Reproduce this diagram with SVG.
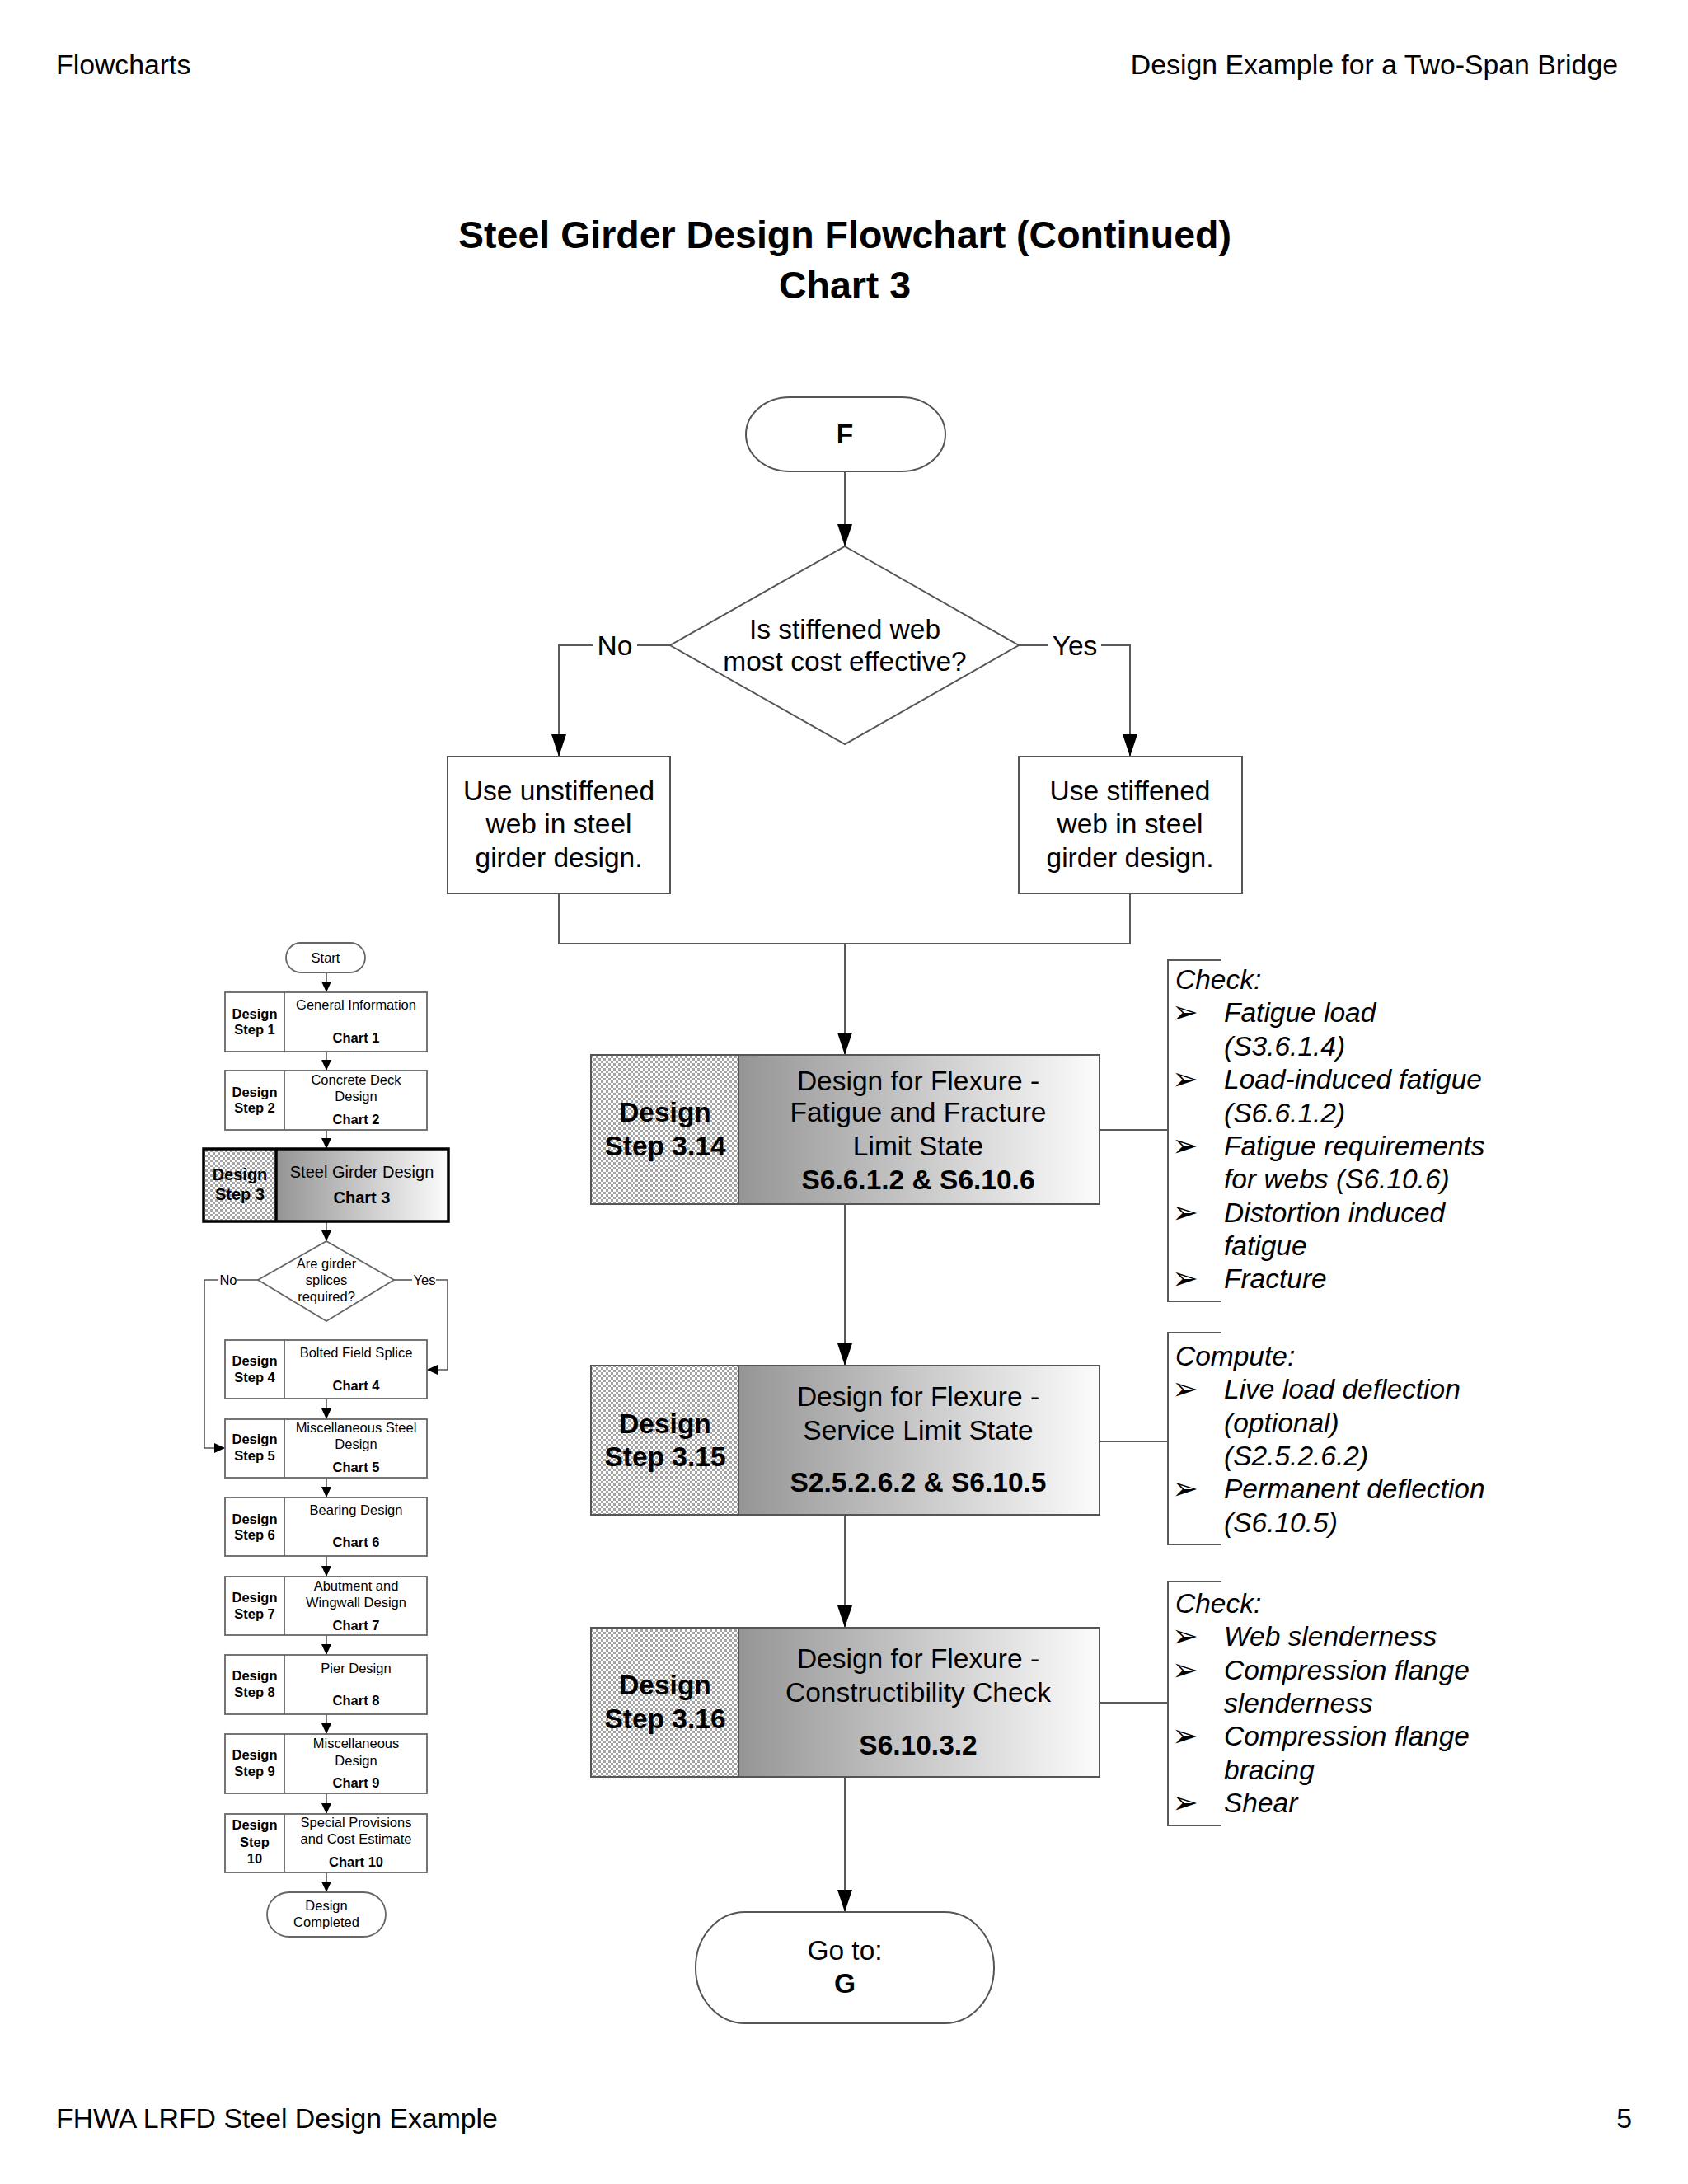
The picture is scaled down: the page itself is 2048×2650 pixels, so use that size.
<svg xmlns="http://www.w3.org/2000/svg" width="2048" height="2650" viewBox="0 0 2048 2650">
<defs>
<style>
text{font-family:"Liberation Sans",Arial,"DejaVu Sans",sans-serif;fill:#000}
.m{font-size:33.5px;text-anchor:middle}
.l{font-size:33.5px}
.s{font-size:16.5px;text-anchor:middle}
.s3{font-size:20px;text-anchor:middle}
.b{font-weight:bold}
.i{font-style:italic}
.h{font-size:33.8px}
.ttl{font-size:46.5px;font-weight:bold;text-anchor:middle}
.bul{font-family:"DejaVu Sans",sans-serif;font-size:38px;font-style:normal}
.ln{stroke:#5a5a5a;stroke-width:2;fill:none}
.lns{stroke:#555;stroke-width:1.6;fill:none}
.box{fill:#fff;stroke:#555;stroke-width:2}
.mbox{fill:#fff;stroke:#666;stroke-width:1.8}
.frame{fill:none;stroke:#555;stroke-width:2}
.a{marker-end:url(#arr)}
.as{marker-end:url(#arrs)}
</style>
<marker id="arr" markerUnits="userSpaceOnUse" markerWidth="27" markerHeight="18" refX="27" refY="9" orient="auto">
<path d="M0,0 L27,9 L0,18 Z" fill="#000"/>
</marker>
<marker id="arrs" markerUnits="userSpaceOnUse" markerWidth="13" markerHeight="12" refX="13" refY="6" orient="auto">
<path d="M0,0 L13,6 L0,12 Z" fill="#000"/>
</marker>
<linearGradient id="grad" x1="0" y1="0" x2="1" y2="0">
<stop offset="0" stop-color="#959595"/>
<stop offset="1" stop-color="#fcfcfc"/>
</linearGradient>
<pattern id="chk" patternUnits="userSpaceOnUse" width="6" height="6">
<rect width="6" height="6" fill="#ffffff"/>
<rect width="3" height="3" fill="#a4a4a4"/>
<rect x="3" y="3" width="3" height="3" fill="#a4a4a4"/>
</pattern>
</defs>
<rect width="2048" height="2650" fill="#fff"/>

<g id="header">
<text class="h" x="68" y="90">Flowcharts</text>
<text class="h" x="1963" y="90" text-anchor="end">Design Example for a Two-Span Bridge</text>
</g>
<g id="title">
<text class="ttl" x="1025" y="301">Steel Girder Design Flowchart (Continued)</text>
<text class="ttl" x="1025" y="362">Chart 3</text>
</g>
<g id="footer">
<text class="h" x="68" y="2582">FHWA LRFD Steel Design Example</text>
<text class="h" x="1980" y="2582" text-anchor="end">5</text>
</g>

<g id="connectors">
<path class="ln a" d="M1025,572 V663"/>
<path class="ln" d="M813,783 H773"/>
<path class="ln a" d="M719,783 H678 V918"/>
<path class="ln" d="M1236,783 H1272"/>
<path class="ln a" d="M1336,783 H1371 V918"/>
<path class="ln" d="M678,1084 V1145 H1371 V1084"/>
<path class="ln a" d="M1025,1145 V1280"/>
<path class="ln a" d="M1025,1461 V1657"/>
<path class="ln a" d="M1025,1838 V1975"/>
<path class="ln a" d="M1025,2156 V2320"/>
<path class="ln" d="M1334,1371 H1417"/>
<path class="ln" d="M1334,1749 H1417"/>
<path class="ln" d="M1334,2066 H1417"/>
<path class="ln" d="M1482,1165 H1417 V1579 H1482"/>
<path class="ln" d="M1482,1617 H1417 V1874 H1482"/>
<path class="ln" d="M1482,1919 H1417 V2215 H1482"/>
<path class="lns as" d="M396,1180 V1204"/>
<path class="lns as" d="M396,1276 V1299"/>
<path class="lns as" d="M396,1371 V1394"/>
<path class="lns as" d="M396,1482 V1506"/>
<path class="lns" d="M313,1553 H288"/>
<path class="lns as" d="M265,1553 H248 V1757 H273"/>
<path class="lns" d="M478,1553 H500"/>
<path class="lns as" d="M529,1553 H543 V1662 H518"/>
<path class="lns as" d="M396,1697 V1722"/>
<path class="lns as" d="M396,1793 V1817"/>
<path class="lns as" d="M396,1888 V1913"/>
<path class="lns as" d="M396,1984 V2008"/>
<path class="lns as" d="M396,2080 V2104"/>
<path class="lns as" d="M396,2176 V2201"/>
<path class="lns as" d="M396,2272 V2296"/>
</g>

<g id="nodeF">
<rect class="box" x="905" y="482" width="242" height="90" rx="53" ry="45"/>
<text class="m b" x="1025" y="538">F</text>
</g>
<g id="decision">
<polygon class="box" points="1025,663 1236,783 1025,903 813,783"/>
<text class="m" x="1025" y="775">Is stiffened web</text>
<text class="m" x="1025" y="814">most cost effective?</text>
</g>
<g id="labelNo"><text class="m" x="746" y="795">No</text></g>
<g id="labelYes"><text class="m" x="1304" y="795">Yes</text></g>
<g id="unstiffened">
<rect class="box" x="543" y="918" width="270" height="166"/>
<text class="m" x="678" y="971">Use unstiffened</text>
<text class="m" x="678" y="1011">web in steel</text>
<text class="m" x="678" y="1052">girder design.</text>
</g>
<g id="stiffened">
<rect class="box" x="1236" y="918" width="271" height="166"/>
<text class="m" x="1371" y="971">Use stiffened</text>
<text class="m" x="1371" y="1011">web in steel</text>
<text class="m" x="1371" y="1052">girder design.</text>
</g>

<g id="step314">
<rect x="717" y="1280" width="179" height="181" fill="url(#chk)"/>
<rect x="896" y="1280" width="438" height="181" fill="url(#grad)"/>
<rect class="frame" x="717" y="1280" width="617" height="181"/>
<line class="frame" x1="896" y1="1280" x2="896" y2="1461"/>
<text class="m b" x="807" y="1361">Design</text>
<text class="m b" x="807" y="1402">Step 3.14</text>
<text class="m" x="1114" y="1323">Design for Flexure -</text>
<text class="m" x="1114" y="1361">Fatigue and Fracture</text>
<text class="m" x="1114" y="1402">Limit State</text>
<text class="m b" x="1114" y="1443">S6.6.1.2 &amp; S6.10.6</text>
</g>
<g id="note314">
<text class="l i" x="1426" y="1200">Check:</text>
<text class="bul" x="1422" y="1241">➢</text>
<text class="l i" x="1485" y="1240">Fatigue load</text>
<text class="l i" x="1485" y="1281">(S3.6.1.4)</text>
<text class="bul" x="1422" y="1322">➢</text>
<text class="l i" x="1485" y="1321">Load-induced fatigue</text>
<text class="l i" x="1485" y="1362">(S6.6.1.2)</text>
<text class="bul" x="1422" y="1403">➢</text>
<text class="l i" x="1485" y="1402">Fatigue requirements</text>
<text class="l i" x="1485" y="1442">for webs (S6.10.6)</text>
<text class="bul" x="1422" y="1484">➢</text>
<text class="l i" x="1485" y="1483">Distortion induced</text>
<text class="l i" x="1485" y="1523">fatigue</text>
<text class="bul" x="1422" y="1564">➢</text>
<text class="l i" x="1485" y="1563">Fracture</text>
</g>

<g id="step315">
<rect x="717" y="1657" width="179" height="181" fill="url(#chk)"/>
<rect x="896" y="1657" width="438" height="181" fill="url(#grad)"/>
<rect class="frame" x="717" y="1657" width="617" height="181"/>
<line class="frame" x1="896" y1="1657" x2="896" y2="1838"/>
<text class="m b" x="807" y="1739">Design</text>
<text class="m b" x="807" y="1779">Step 3.15</text>
<text class="m" x="1114" y="1706">Design for Flexure -</text>
<text class="m" x="1114" y="1747">Service Limit State</text>
<text class="m b" x="1114" y="1810">S2.5.2.6.2 &amp; S6.10.5</text>
</g>
<g id="note315">
<text class="l i" x="1426" y="1657">Compute:</text>
<text class="bul" x="1422" y="1698">➢</text>
<text class="l i" x="1485" y="1697">Live load deflection</text>
<text class="l i" x="1485" y="1738">(optional)</text>
<text class="l i" x="1485" y="1778">(S2.5.2.6.2)</text>
<text class="bul" x="1422" y="1819">➢</text>
<text class="l i" x="1485" y="1818">Permanent deflection</text>
<text class="l i" x="1485" y="1859">(S6.10.5)</text>
</g>

<g id="step316">
<rect x="717" y="1975" width="179" height="181" fill="url(#chk)"/>
<rect x="896" y="1975" width="438" height="181" fill="url(#grad)"/>
<rect class="frame" x="717" y="1975" width="617" height="181"/>
<line class="frame" x1="896" y1="1975" x2="896" y2="2156"/>
<text class="m b" x="807" y="2056">Design</text>
<text class="m b" x="807" y="2097">Step 3.16</text>
<text class="m" x="1114" y="2024">Design for Flexure -</text>
<text class="m" x="1114" y="2065">Constructibility Check</text>
<text class="m b" x="1114" y="2129">S6.10.3.2</text>
</g>
<g id="note316">
<text class="l i" x="1426" y="1957">Check:</text>
<text class="bul" x="1422" y="1998">➢</text>
<text class="l i" x="1485" y="1997">Web slenderness</text>
<text class="bul" x="1422" y="2039">➢</text>
<text class="l i" x="1485" y="2038">Compression flange</text>
<text class="l i" x="1485" y="2078">slenderness</text>
<text class="bul" x="1422" y="2119">➢</text>
<text class="l i" x="1485" y="2118">Compression flange</text>
<text class="l i" x="1485" y="2159">bracing</text>
<text class="bul" x="1422" y="2200">➢</text>
<text class="l i" x="1485" y="2199">Shear</text>
</g>

<g id="gotoG">
<rect class="box" x="844" y="2320" width="362" height="135" rx="60" ry="67"/>
<text class="m" x="1025" y="2378">Go to:</text>
<text class="m b" x="1025" y="2418">G</text>
</g>

<g id="mini-start">
<rect class="mbox" x="347" y="1144" width="96" height="36" rx="18" ry="18"/>
<text class="s" x="395" y="1168">Start</text>
</g>
<g id="mini-step1">
<rect class="mbox" x="273" y="1204" width="245" height="72"/>
<line class="mbox" x1="345" y1="1204" x2="345" y2="1276"/>
<text class="s b" x="309" y="1236">Design</text>
<text class="s b" x="309" y="1255">Step 1</text>
<text class="s" x="432" y="1225">General Information</text>
<text class="s b" x="432" y="1265">Chart 1</text>
</g>
<g id="mini-step2">
<rect class="mbox" x="273" y="1299" width="245" height="72"/>
<line class="mbox" x1="345" y1="1299" x2="345" y2="1371"/>
<text class="s b" x="309" y="1331">Design</text>
<text class="s b" x="309" y="1350">Step 2</text>
<text class="s" x="432" y="1316">Concrete Deck</text>
<text class="s" x="432" y="1336">Design</text>
<text class="s b" x="432" y="1364">Chart 2</text>
</g>
<g id="mini-step3">
<rect x="247" y="1394" width="88" height="88" fill="url(#chk)"/>
<rect x="335" y="1394" width="209" height="88" fill="url(#grad)"/>
<rect x="247" y="1394" width="297" height="88" fill="none" stroke="#000" stroke-width="3.5"/>
<line x1="335" y1="1394" x2="335" y2="1482" stroke="#000" stroke-width="3.5"/>
<text class="s3 b" x="291" y="1432">Design</text>
<text class="s3 b" x="291" y="1456">Step 3</text>
<text class="s3" x="439" y="1429">Steel Girder Design</text>
<text class="s3 b" x="439" y="1460">Chart 3</text>
</g>
<g id="mini-decision">
<polygon class="mbox" points="396,1506 478,1553 396,1603 313,1553"/>
<text class="s" x="396" y="1539">Are girder</text>
<text class="s" x="396" y="1559">splices</text>
<text class="s" x="396" y="1579">required?</text>
</g>
<g id="mini-no"><text class="s" x="277" y="1559">No</text></g>
<g id="mini-yes"><text class="s" x="515" y="1559">Yes</text></g>
<g id="mini-step4">
<rect class="mbox" x="273" y="1626" width="245" height="71"/>
<line class="mbox" x1="345" y1="1626" x2="345" y2="1697"/>
<text class="s b" x="309" y="1657">Design</text>
<text class="s b" x="309" y="1677">Step 4</text>
<text class="s" x="432" y="1647">Bolted Field Splice</text>
<text class="s b" x="432" y="1687">Chart 4</text>
</g>
<g id="mini-step5">
<rect class="mbox" x="273" y="1722" width="245" height="71"/>
<line class="mbox" x1="345" y1="1722" x2="345" y2="1793"/>
<text class="s b" x="309" y="1752">Design</text>
<text class="s b" x="309" y="1772">Step 5</text>
<text class="s" x="432" y="1738">Miscellaneous Steel</text>
<text class="s" x="432" y="1758">Design</text>
<text class="s b" x="432" y="1786">Chart 5</text>
</g>
<g id="mini-step6">
<rect class="mbox" x="273" y="1817" width="245" height="71"/>
<line class="mbox" x1="345" y1="1817" x2="345" y2="1888"/>
<text class="s b" x="309" y="1849">Design</text>
<text class="s b" x="309" y="1868">Step 6</text>
<text class="s" x="432" y="1838">Bearing Design</text>
<text class="s b" x="432" y="1877">Chart 6</text>
</g>
<g id="mini-step7">
<rect class="mbox" x="273" y="1913" width="245" height="71"/>
<line class="mbox" x1="345" y1="1913" x2="345" y2="1984"/>
<text class="s b" x="309" y="1944">Design</text>
<text class="s b" x="309" y="1964">Step 7</text>
<text class="s" x="432" y="1930">Abutment and</text>
<text class="s" x="432" y="1950">Wingwall Design</text>
<text class="s b" x="432" y="1978">Chart 7</text>
</g>
<g id="mini-step8">
<rect class="mbox" x="273" y="2008" width="245" height="72"/>
<line class="mbox" x1="345" y1="2008" x2="345" y2="2080"/>
<text class="s b" x="309" y="2039">Design</text>
<text class="s b" x="309" y="2059">Step 8</text>
<text class="s" x="432" y="2030">Pier Design</text>
<text class="s b" x="432" y="2069">Chart 8</text>
</g>
<g id="mini-step9">
<rect class="mbox" x="273" y="2104" width="245" height="72"/>
<line class="mbox" x1="345" y1="2104" x2="345" y2="2176"/>
<text class="s b" x="309" y="2135">Design</text>
<text class="s b" x="309" y="2155">Step 9</text>
<text class="s" x="432" y="2121">Miscellaneous</text>
<text class="s" x="432" y="2142">Design</text>
<text class="s b" x="432" y="2169">Chart 9</text>
</g>
<g id="mini-step10">
<rect class="mbox" x="273" y="2201" width="245" height="71"/>
<line class="mbox" x1="345" y1="2201" x2="345" y2="2272"/>
<text class="s b" x="309" y="2220">Design</text>
<text class="s b" x="309" y="2241">Step</text>
<text class="s b" x="309" y="2261">10</text>
<text class="s" x="432" y="2217">Special Provisions</text>
<text class="s" x="432" y="2237">and Cost Estimate</text>
<text class="s b" x="432" y="2265">Chart 10</text>
</g>
<g id="mini-end">
<rect class="mbox" x="324" y="2296" width="144" height="54" rx="27" ry="27"/>
<text class="s" x="396" y="2318">Design</text>
<text class="s" x="396" y="2338">Completed</text>
</g>
</svg>
